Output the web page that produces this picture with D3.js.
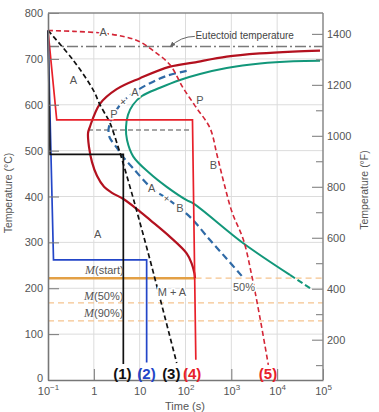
<!DOCTYPE html>
<html><head><meta charset="utf-8">
<script src="https://cdn.jsdelivr.net/npm/d3@7"></script>
<style>body{margin:0;background:#fff}svg{display:block}</style>
</head><body>
<svg id="c" width="379" height="412"></svg>
<script>
// ---------- data ----------
const startTime = 0.1, startTemp = 762;
// pearlite start curve (lower branch -> nose -> upper branch)
const pStartTimes = [161,156,136,106,45.9,16.8,8.6,4.33,2.49,1.67,1.17,0.912,0.784,0.747,0.82,1.36,3.15,10.2,46,148,790,4230,22100,86000];
const pStartTemps = [222,233,254,276,312,349,373,395,408,421,445,475,508,538,552,602,634,658,683,692,705,712,716,718];
// 50% curve
const p50Times = [1683,766,343,136,75.9,38.9,18.3,7.26,4.05,3.2,2.25,2.09,2.2,2.75,4.33,7.9,16.8,38.9,106];
const p50Temps = [227,266,305,352,374,396,418,461,490,506,527,541,558,580,607,628,647,663,674];
// finish curve
const pEndTimes = [19000,1824,148,106,38.9,16.8,7.26,5.3,5.03,5.56,7.16,11.2,27.8,75.9,207,792,4227,22500,86100];
const pEndTemps = [229,298,385,392,421,450,487,523,551,578,600,619,637,654,667,680,690,695,696];
const pEndTailTimes = [19000,56600];
const pEndTailTemps = [229,198];
// cooling paths
const path1Times = [0.1,0.1106,4.4,4.4],   path1Temps = [762,492,492,35];
const path2Times = [0.1,0.1318,14.2,14.2], path2Temps = [762,262,262,38];
const path3Times = [0.1,0.356,0.973,1.36,1.91,2.26,3.72,6.15,9.34,16.8,64.3];
const path3Temps = [762,697,632,600,574,560,495,421,356,262,37];
const path4Times = [0.1,0.155,142,168],    path4Temps = [762,567,567,44];
const path5Times = [0.1,0.356,1.585,4.79,10.2,21.6,45.9,89.5,169,343,486,692,1035,1841,2825,4227,6412];
const path5Temps = [762,760,756,748,737,715,687,636,595,549,491,429,366,305,225,135,33];
// martensite, eutectoid, nose
const mStart = 222, m50 = 168, m90 = 129, mStartEndTime = 166;
const eutectoid = 727;
const noseTemp = 545, noseFrom = 0.747, noseTo = 143;
// ticks
const yTicks = [0,100,200,300,400,500,600,700,800];
const xTicks = [0.1,1,10,100,1000,10000,100000];
const xTickLabels = [["10","\u22121"],["1",""],["10",""],["10","2"],["10","3"],["10","4"],["10","5"]];
const fMajor = [200,400,600,800,1000,1200,1400];
const fMinor = [100,300,500,700,900,1100,1300];
const pathLabels = ["(1)","(2)","(3)","(4)","(5)"];
const pathLabelTimes = [4.2,14.1,49,140,6300];

// ---------- scales ----------
const svg = d3.select("#c");
const x = d3.scaleLog().domain([0.1,1e5]).range([48,323]);
const y = d3.scaleLinear().domain([0,800]).range([380,13]);
const fy = d3.scaleLinear().domain([32,1472]).range([382.5,15.5]);
const curve = d3.line().x(d=>x(d[0])).y(d=>y(d[1])).curve(d3.curveCatmullRom.alpha(0.5));
const straight = d3.line().x(d=>x(d[0])).y(d=>y(d[1]));
const FONT = "'Liberation Sans', Arial, sans-serif";

// grid
const g = svg.append("g");
g.selectAll(".gy").data(yTicks.slice(1,-1)).join("line")
  .attr("x1",x(0.1)).attr("x2",x(1e5)).attr("y1",d=>y(d)).attr("y2",d=>y(d))
  .attr("stroke","#dcdcdc").attr("stroke-width",1);
g.selectAll(".gx").data(xTicks.slice(1,-1)).join("line")
  .attr("y1",y(0)).attr("y2",y(800)).attr("x1",d=>x(d)).attr("x2",d=>x(d))
  .attr("stroke","#dcdcdc").attr("stroke-width",1);

// martensite lines
svg.append("line").attr("x1",x(0.1)).attr("x2",x(mStartEndTime)).attr("y1",y(mStart)).attr("y2",y(mStart))
  .attr("stroke","#e3a045").attr("stroke-width",2.5);
svg.append("line").attr("x1",x(mStartEndTime)).attr("x2",x(1e5)).attr("y1",y(mStart)).attr("y2",y(mStart))
  .attr("stroke","#f5c48f").attr("stroke-width",1.3).attr("stroke-dasharray","6,4");
[m50,m90].forEach(m=>svg.append("line").attr("x1",x(0.1)).attr("x2",x(1e5)).attr("y1",y(m)).attr("y2",y(m))
  .attr("stroke","#f5c48f").attr("stroke-width",1.3).attr("stroke-dasharray","6,4"));

// eutectoid
svg.append("line").attr("x1",x(0.1)).attr("x2",x(1e5)).attr("y1",y(eutectoid)).attr("y2",y(eutectoid))
  .attr("stroke","#7a7a7a").attr("stroke-width",1.5).attr("stroke-dasharray","11,3,2,3");
// nose dashed
svg.append("line").attr("x1",x(noseFrom)).attr("x2",x(noseTo)).attr("y1",y(noseTemp)).attr("y2",y(noseTemp))
  .attr("stroke","#888").attr("stroke-width",1.3).attr("stroke-dasharray","5,3");

// transformation curves
svg.append("path").attr("d",curve(d3.zip(pEndTimes,pEndTemps))).attr("fill","none")
  .attr("stroke","#12977a").attr("stroke-width",2);
svg.append("path").attr("d",straight(d3.zip(pEndTailTimes,pEndTailTemps))).attr("fill","none")
  .attr("stroke","#12977a").attr("stroke-width",2).attr("stroke-dasharray","6,3");
svg.append("path").attr("d",curve(d3.zip(p50Times,p50Temps))).attr("fill","none")
  .attr("stroke","#2f6aa6").attr("stroke-width",2.2).attr("stroke-dasharray","7,4");
svg.append("path").attr("d",curve(d3.zip(pStartTimes,pStartTemps))).attr("fill","none")
  .attr("stroke","#b3111f").attr("stroke-width",2.2);

// cooling paths
svg.append("path").attr("d",curve(d3.zip(path5Times,path5Temps))).attr("fill","none")
  .attr("stroke","#d42536").attr("stroke-width",1.6).attr("stroke-dasharray","5,3");
svg.append("path").attr("d",curve(d3.zip(path3Times,path3Temps))).attr("fill","none")
  .attr("stroke","#111").attr("stroke-width",1.7).attr("stroke-dasharray","5,3");
svg.append("path").attr("d",straight(d3.zip(path4Times,path4Temps))).attr("fill","none")
  .attr("stroke","#e8202a").attr("stroke-width",1.7);
svg.append("path").attr("d",straight(d3.zip(path2Times,path2Temps))).attr("fill","none")
  .attr("stroke","#2346c8").attr("stroke-width",1.7);
svg.append("path").attr("d",straight(d3.zip(path1Times,path1Temps))).attr("fill","none")
  .attr("stroke","#111").attr("stroke-width",1.7);

// region labels
const labels = [
  ["A",0.357,654,0],["A",1.6,759,0],["A",1.21,318,0],
  ["P",2.75,580,0],["+",4.33,607,-40],["A",7.9,628,0],
  ["A",18.3,418,0],["+",38.9,396,40],["B",75.9,374,0],
  ["P",207,610,0],["B",405,469,0],["M + A",50.7,192,0],["50%",1888,203,0]
];
labels.forEach(([t,tt,T,r])=>{
  svg.append("text").attr("transform",`translate(${x(tt)},${y(T)}) rotate(${r})`)
    .attr("text-anchor","middle").attr("dy","0.36em")
    .attr("font-family",FONT).attr("font-size",11).attr("fill","#555")
    .attr("stroke","#fff").attr("stroke-width",3).attr("paint-order","stroke")
    .text(t);
});

// M labels
[["start",0.641,231],["50%",0.61,174.4],["90%",0.61,138.4]].forEach(([s,tt,T])=>{
  const t = svg.append("text").attr("x",x(tt)).attr("y",y(T)).attr("font-size",11).attr("fill","#555")
    .attr("font-family",FONT);
  t.append("tspan").attr("font-family","'Liberation Serif', serif").attr("font-style","italic").attr("font-size",12).text("M");
  t.append("tspan").text("("+s+")");
});

// eutectoid annotation
svg.append("defs").append("marker").attr("id","ah").attr("viewBox","0 0 10 10").attr("refX",9).attr("refY",5)
  .attr("markerWidth",6).attr("markerHeight",6).attr("orient","auto")
  .append("path").attr("d","M0,1 L10,5 L0,9 Z").attr("fill","#666");
const a0 = [x(160),y(749)], a1 = [x(46),y(726)];
svg.append("path").attr("d",`M${a0[0]},${a0[1]} Q${a0[0]-14},${a0[1]} ${a1[0]},${a1[1]}`)
  .attr("fill","none").attr("stroke","#666").attr("stroke-width",1).attr("marker-end","url(#ah)");
svg.append("text").attr("x",x(165)).attr("y",y(743)).attr("font-family",FONT).attr("font-size",10)
  .attr("fill","#444").text("Eutectoid temperature");

// axes
const ax = svg.append("g").attr("transform",`translate(${x(0.1)},0)`)
  .call(d3.axisLeft(y).tickValues(yTicks).tickSize(-11).tickSizeOuter(0).tickPadding(5));
ax.selectAll("text").attr("font-family",FONT).attr("font-size",11).attr("fill","#555");
ax.selectAll(".tick text").filter(d=>d===0).attr("dy","0.1em");
const bx = svg.append("g").attr("transform",`translate(0,${y(0)})`)
  .call(d3.axisBottom(x).tickValues(xTicks).tickSize(-11).tickSizeOuter(0).tickPadding(7).tickFormat(""));
bx.selectAll(".tick text").each(function(d,i){
  const t = d3.select(this).attr("font-family",FONT).attr("font-size",11).attr("fill","#555");
  t.append("tspan").text(xTickLabels[i][0]);
  if (xTickLabels[i][1]) t.append("tspan").attr("font-size",8).attr("dy",-5).text(xTickLabels[i][1]);
});
const rx = svg.append("g").attr("transform",`translate(${x(1e5)},0)`)
  .call(d3.axisRight(fy).tickValues(fMajor).tickSize(-11).tickSizeOuter(0).tickPadding(4).tickFormat(d3.format("d")));
rx.selectAll("text").attr("font-family",FONT).attr("font-size",11).attr("fill","#555");
rx.select(".domain").remove();
svg.append("g").attr("transform",`translate(${x(1e5)},0)`)
  .call(d3.axisRight(fy).tickValues(fMinor).tickSize(-7).tickFormat("")).select(".domain").remove();
svg.selectAll(".domain, .tick line").attr("stroke","#777");
svg.selectAll(".domain").attr("stroke-width",1.6);
// frame top & right
svg.append("line").attr("x1",x(0.1)).attr("x2",x(1e5)).attr("y1",y(800)).attr("y2",y(800)).attr("stroke","#888").attr("stroke-width",1.5);
svg.append("line").attr("x1",x(1e5)).attr("x2",x(1e5)).attr("y1",y(800)).attr("y2",y(0)).attr("stroke","#888").attr("stroke-width",1.5);

// axis titles
svg.append("text").attr("transform","translate(12,193) rotate(-90)").attr("text-anchor","middle")
  .attr("font-family",FONT).attr("font-size",10.5).attr("fill","#555").text("Temperature (\u00B0C)");
svg.append("text").attr("transform","translate(368,190) rotate(-90)").attr("text-anchor","middle")
  .attr("font-family",FONT).attr("font-size",10.5).attr("fill","#555").text("Temperature (\u00B0F)");
svg.append("text").attr("x",185).attr("y",410).attr("text-anchor","middle")
  .attr("font-family",FONT).attr("font-size",11).attr("fill","#555").text("Time (s)");

// path labels
const pathColors = ["#111","#2346c8","#111","#e8202a","#e8202a"];
pathLabels.forEach((s,i)=>{
  svg.append("text").attr("x",x(pathLabelTimes[i])).attr("y",378.5).attr("text-anchor","middle")
    .attr("font-family",FONT).attr("font-weight","bold").attr("font-size",15)
    .attr("fill",pathColors[i]).text(s);
});
</script>
</body></html>
